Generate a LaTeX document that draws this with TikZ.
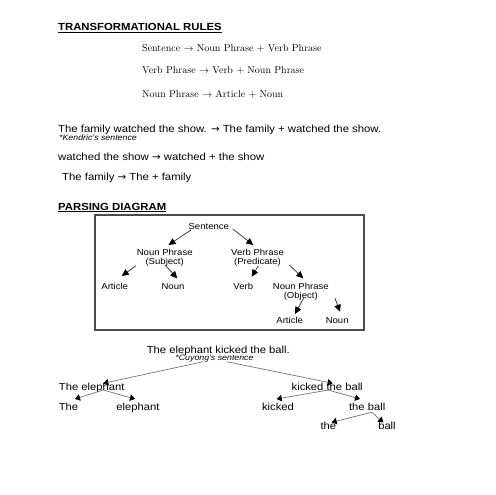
\documentclass[tikz,border=0pt]{standalone}
\usepackage{fontspec}
\setmainfont{Liberation Sans}[FakeStretch=1.1]
\newfontfamily\serifrm{Latin Modern Roman}
\newfontfamily\arrowfont{DejaVu Sans}
\newcommand{\sarr}{{\arrowfont →}}
\usetikzlibrary{arrows.meta,calc}
\begin{document}
\begin{tikzpicture}[x=1pt,y=-1pt,
  txt/.style={inner sep=0pt, anchor=base west, font=\fontsize{10.3}{12}\selectfont},
  head/.style={inner sep=0pt, anchor=base west, font=\fontsize{10.3}{12}\selectfont\bfseries},
  rule/.style={inner sep=0pt, anchor=base west, font=\serifrm\fontsize{10}{12}\selectfont},
  note/.style={inner sep=0pt, font=\fontsize{8}{10}\selectfont\itshape},
  lbl/.style={inner sep=0pt, anchor=base, font=\fontsize{8.7}{8.5}\selectfont},
  lbltwo/.style={inner sep=0pt, anchor=north, align=center, font=\fontsize{8.7}{8.3}\selectfont},
  blbl/.style={inner sep=0pt, anchor=base, font=\fontsize{10.2}{12}\selectfont},
  arr/.style={draw=black!75, line width=0.8pt, -{Triangle[length=7pt,width=6.5pt,color=black]}},
  barr/.style={draw=black!55, line width=0.7pt, -{Triangle[length=5pt,width=6.5pt,color=black]}},
  frame/.style={draw=black!70, line width=1.3pt}
]
\useasboundingbox (0,0) rectangle (495,495);

% ---- Transformational rules
\node[head] (h1) at (58,31) {\underline{TRANSFORMATIONAL RULES}};
\node[rule] (r1) at (142,52) {Sentence $\rightarrow$ Noun Phrase + Verb Phrase};
\node[rule] (r2) at (142,74) {Verb Phrase $\rightarrow$ Verb + Noun Phrase};
\node[rule] (r3) at (142,97) {Noun Phrase $\rightarrow$ Article + Noun};

\node[txt] (l1) at (58,132) {The family watched the show. \sarr{} The family + watched the show.};
\node[note, anchor=base west] (k) at (59,140) {*Kendric’s sentence};
\node[txt] (l2) at (58,160) {watched the show \sarr{} watched + the show};
\node[txt] (l3) at (62,180) {The family \sarr{} The + family};

% ---- Parsing diagram
\node[head] (h2) at (58,210) {\underline{PARSING DIAGRAM}};
\draw[frame] (95,215) rectangle (364,330);

\node[lbl] (s) at (208.8,229) {Sentence};
\node[lbltwo] (np1) at (164.7,249.3) {Noun Phrase\\(Subject)};
\node[lbltwo] (vp) at (257.5,249.3) {Verb Phrase\\(Predicate)};
\node[lbl] (a1) at (114.7,289.3) {Article};
\node[lbl] (n1) at (173,289.3) {Noun};
\node[lbl] (v) at (243.3,289.3) {Verb};
\node[lbltwo] (np2) at (300.8,283.3) {Noun Phrase\\(Object)};
\node[lbl] (a2) at (289.7,323.3) {Article};
\node[lbl] (n2) at (337.2,323.3) {Noun};

\draw[arr] ($(s.base)+(-17.8,1)$) -- ($(np1.north)+(3.8,-4.3)$);
\draw[arr] ($(s.base)+(23.9,0)$) -- ($(vp.north)+(-4.2,-4.3)$);
\draw[arr] ($(np1.north)+(-28.7,16.4)$) -- ($(a1.base)+(7,-13.3)$);
\draw[arr] ($(np1.north)+(0.3,15.7)$) -- ($(n1.base)+(4.3,-11)$);
\draw[arr] ($(vp.north)+(0.8,16.4)$) -- ($(v.base)+(8.4,-12.6)$);
\draw[arr] ($(vp.north)+(31.8,15.7)$) -- ($(np2.north)+(2.5,-5)$);
\draw[arr] ($(np2.north)+(3.2,14)$) -- ($(a2.base)+(5.3,-9.3)$);
\draw[arr] ($(np2.north)+(34.2,15)$) -- ($(n2.base)+(2.8,-11.6)$);

% ---- Elephant tree
\node[blbl] (t) at (218.3,353) {The elephant kicked the ball.};
\node[note, anchor=base] (cu) at (214.5,360.5) {*Cuyong’s sentence};
\node[blbl] (te) at (91.7,390.3) {The elephant};
\node[blbl] (ktb) at (327.2,390.3) {kicked the ball};
\node[blbl] (the1) at (68.5,410) {The};
\node[blbl] (ele) at (138,410) {elephant};
\node[blbl] (kk) at (278,410) {kicked};
\node[blbl] (tb) at (367.2,410) {the ball};
\node[blbl] (the2) at (328.3,429.7) {the};
\node[blbl] (ball) at (387,429.7) {ball};

\draw[barr] ($(t.base)+(-15,8.7)$) -- ($(te.base)+(11.6,-7)$);
\draw[barr] ($(t.base)+(8.4,8.7)$) -- ($(ktb.base)+(5.5,-7)$);
\draw[barr] ($(te.base)+(11.6,-0.3)$) -- ($(the1.base)+(6.5,-11)$);
\draw[barr] ($(te.base)+(11.6,-0.3)$) -- ($(ele.base)+(-3,-11)$);
\draw[barr] ($(ktb.base)+(1.1,-0.3)$) -- ($(kk.base)+(-1.3,-11)$);
\draw[barr] ($(ktb.base)+(1.1,-0.3)$) -- ($(tb.base)+(-7.2,-11)$);
\draw[barr] ($(tb.base)+(4.5,2.3)$) -- ($(the2.base)+(3.4,-7.4)$);
\draw[barr] ($(tb.base)+(4.5,2.3)$) -- ($(ball.base)+(-3.7,-7.4)$);
\end{tikzpicture}
\end{document}
